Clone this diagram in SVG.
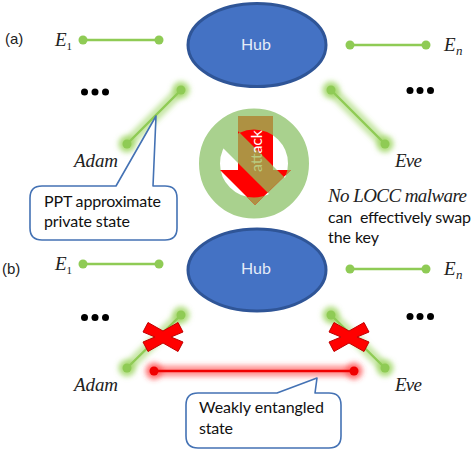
<svg xmlns="http://www.w3.org/2000/svg" width="474" height="452" viewBox="0 0 474 452">
<style>
.hub{fill:#4472C4;stroke:#2F5597;stroke-width:3}
.hubt{font:16px Lato,"Open Sans",sans-serif;fill:#E4ECF8;text-anchor:middle}
.ln{stroke:#8FCB55;stroke-width:2.4;fill:none}
.dot{fill:#8FCB55}
.glow{stroke:#92D050;stroke-width:11;stroke-linecap:round;fill:none;opacity:.5}
.halo{fill:#92D050;opacity:.6}
.math{font:italic 19px "Liberation Serif",serif;fill:#222}
.sub{font:11px "Liberation Serif",serif;fill:#222}
.subi{font:italic 13px "Liberation Serif",serif;fill:#222}
.lab{font:15px "Liberation Sans",Arial,sans-serif;fill:#222}
.txt{font:16px Lato,"Open Sans",sans-serif;fill:#111}
.call{fill:#fff;stroke:#4472B4;stroke-width:1.6;stroke-linejoin:round}
.bk{fill:#000}
.x{fill:#FF0000;stroke:#C00000;stroke-width:1}
</style>
<defs>
<filter id="blur" filterUnits="userSpaceOnUse" x="0" y="0" width="474" height="452"><feGaussianBlur stdDeviation="2.6"/></filter>
<clipPath id="band">
<path clip-rule="evenodd" d="M199 163.500a55 55 0 1 0 110 0a55 55 0 1 0 -110 0ZM220 163.500a34 34 0 1 0 68 0a34 34 0 1 0 -68 0Z"/>
<polygon points="214,139 230,123 294,187 278,203"/>
</clipPath>
<polygon id="arrow" points="238,116 273,116 273,170 291,170 255,205 220,170 238,170"/>
<polygon id="cross" points="-15,-14.500 0,-6 15,-14.500 20,-5 8,0 20,5 15,14.500 0,6 -15,14.500 -20,5 -8,0 -20,-5"/>
</defs>
<g id="connectors">
<path class="ln" d="M83 40H159M350 45H426M83 264H159M350 269H426"/>
<g filter="url(#blur)">
<path class="glow" d="M127 144L181 90M331 90L385 144M127 368L181 315M331 315L385 368"/>
<circle class="halo" cx="127" cy="144" r="9"/><circle class="halo" cx="181" cy="90" r="9"/><circle class="halo" cx="331" cy="90" r="9"/><circle class="halo" cx="385" cy="144" r="9"/>
<circle class="halo" cx="127" cy="368" r="9"/><circle class="halo" cx="181" cy="315" r="9"/><circle class="halo" cx="331" cy="315" r="9"/><circle class="halo" cx="385" cy="368" r="9"/>
</g>
<path class="ln" d="M127 144L181 90M331 90L385 144M127 368L181 315M331 315L385 368"/>
<g filter="url(#blur)"><path d="M154 371H354" stroke="#FF3B3B" stroke-width="11" stroke-linecap="round" opacity=".55"/><circle cx="154" cy="371" r="9" fill="#FF3B3B" opacity=".55"/><circle cx="354" cy="371" r="9" fill="#FF3B3B" opacity=".55"/></g>
<path d="M154 371H354" stroke="#F00000" stroke-width="2.500"/>
<circle cx="154" cy="371" r="4.500" fill="#F00000"/><circle cx="354" cy="371" r="4.500" fill="#F00000"/>
</g>
<g id="label-a"><text class="lab" x="5" y="44">(a)</text></g>
<g id="label-b"><text class="lab" x="2" y="274">(b)</text></g>
<g id="hub-a"><ellipse class="hub" cx="257" cy="45" rx="69" ry="41.500"/><text class="hubt" x="256" y="50">Hub</text></g>
<g id="hub-b"><ellipse class="hub" cx="257" cy="270" rx="69" ry="41"/><text class="hubt" x="256" y="274">Hub</text></g>
<g id="e1-a"><circle class="dot" cx="83" cy="40" r="4.500"/><circle class="dot" cx="159" cy="40" r="4.500"/><text class="math" x="55" y="46">E</text><text class="sub" x="66.500" y="50">1</text></g>
<g id="en-a"><circle class="dot" cx="350" cy="45" r="4.500"/><circle class="dot" cx="426" cy="45" r="4.500"/><text class="math" x="444" y="51">E</text><text class="subi" x="456" y="55">n</text></g>
<g id="e1-b"><circle class="dot" cx="83" cy="264" r="4.500"/><circle class="dot" cx="159" cy="264" r="4.500"/><text class="math" x="55" y="270">E</text><text class="sub" x="66.500" y="274">1</text></g>
<g id="en-b"><circle class="dot" cx="350" cy="269" r="4.500"/><circle class="dot" cx="426" cy="269" r="4.500"/><text class="math" x="444" y="275">E</text><text class="subi" x="456" y="279">n</text></g>
<g id="dots"><g class="bk">
<circle cx="84.500" cy="92" r="3.500"/><circle cx="95" cy="92" r="3.500"/><circle cx="105.500" cy="92" r="3.500"/>
<circle cx="410" cy="90.500" r="3.500"/><circle cx="420" cy="90.500" r="3.500"/><circle cx="430.500" cy="90.500" r="3.500"/>
<circle cx="84.500" cy="317.500" r="3.500"/><circle cx="95" cy="317.500" r="3.500"/><circle cx="105.500" cy="317.500" r="3.500"/>
<circle cx="410" cy="316.500" r="3.500"/><circle cx="420" cy="316.500" r="3.500"/><circle cx="430.500" cy="316.500" r="3.500"/>
</g></g>
<g id="adam-a"><circle class="dot" cx="127" cy="144" r="4.500"/><circle class="dot" cx="181" cy="90" r="4.500"/><text class="math" x="74" y="167" textLength="44">Adam</text></g>
<g id="eve-a"><circle class="dot" cx="331" cy="90" r="4.500"/><circle class="dot" cx="385" cy="144" r="4.500"/><text class="math" x="395" y="167" textLength="27">Eve</text></g>
<g id="adam-b"><circle class="dot" cx="127" cy="368" r="4.500"/><circle class="dot" cx="181" cy="315" r="4.500"/><text class="math" x="74" y="391" textLength="44">Adam</text></g>
<g id="eve-b"><circle class="dot" cx="331" cy="315" r="4.500"/><circle class="dot" cx="385" cy="368" r="4.500"/><text class="math" x="395" y="391" textLength="27">Eve</text></g>
<g id="no-attack">
<circle cx="254" cy="163.500" r="44.500" fill="none" stroke="#A9D18E" stroke-width="21"/>
<polygon points="214,139 230,123 294,187 278,203" fill="#A9D18E"/>
<use href="#arrow" fill="#FF0000"/>
<use href="#arrow" fill="#AE9142" clip-path="url(#band)"/>
<text transform="translate(262,172) rotate(-90)" font-family="Lato,'Open Sans',sans-serif" font-size="16" textLength="42"><tspan fill="#B9CB80">att</tspan><tspan fill="#fff">ack</tspan></text>
</g>
<g id="x-left"><use href="#cross" class="x" x="163" y="337"/></g>
<g id="x-right"><use href="#cross" class="x" x="349" y="337"/></g>
<g id="callout-a"><path class="call" d="M42 186H116L156 116L153 186H165Q177 186 177 198V228Q177 240 165 240H42Q30 240 30 228V198Q30 186 42 186Z"/><text class="txt" x="44" y="207" textLength="117">PPT approximate</text><text class="txt" x="44" y="227" textLength="86">private state</text></g>
<g id="callout-b"><path class="call" d="M198 393H277L317 378L315 393H329Q341 393 341 405V436Q341 448 329 448H198Q186 448 186 436V405Q186 393 198 393Z"/><text class="txt" x="199" y="413" textLength="125">Weakly entangled</text><text class="txt" x="199" y="434" textLength="34">state</text></g>
<g id="malware-note">
<text font-family="'Liberation Serif',serif" font-style="italic" font-size="19" fill="#222" x="328" y="202" textLength="139">No LOCC malware</text>
<text class="txt" x="328" y="223" textLength="143" xml:space="preserve">can  effectively swap</text>
<text class="txt" x="328" y="243" textLength="51">the key</text>
</g>
</svg>
